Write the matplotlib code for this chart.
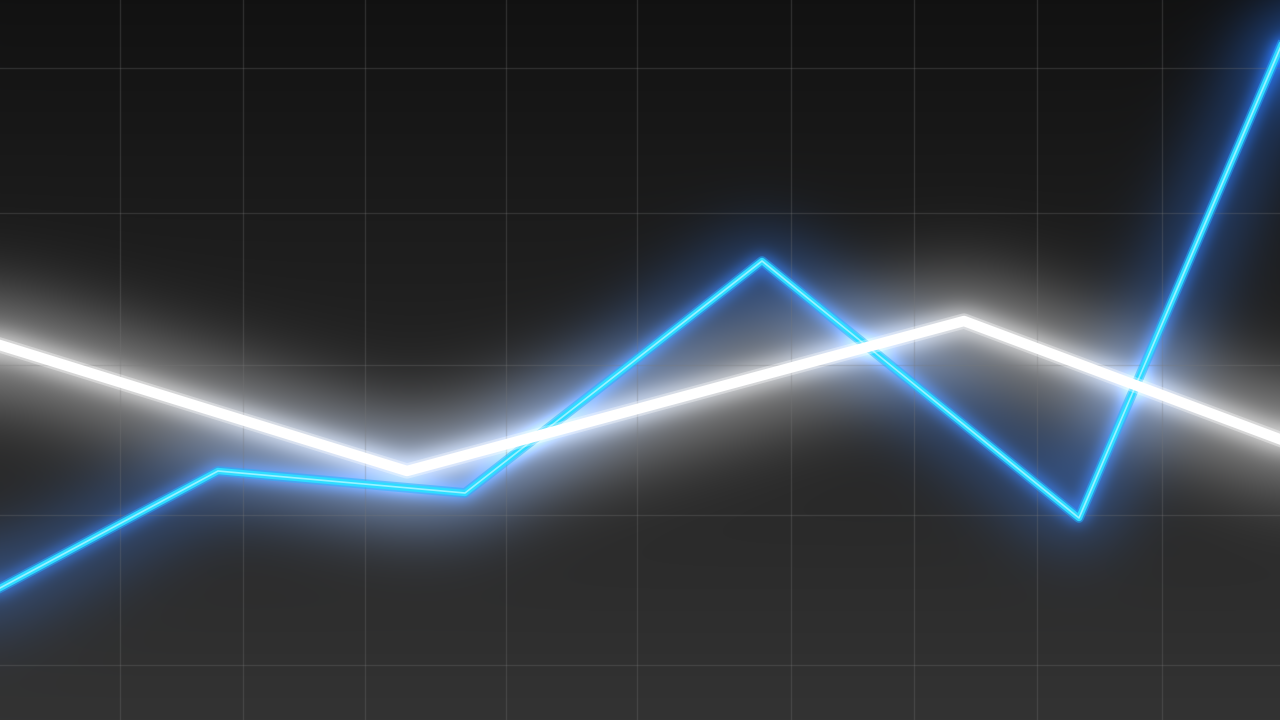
import numpy as np
import matplotlib.pyplot as plt
from matplotlib.figure import Figure
from matplotlib.backends.backend_agg import FigureCanvasAgg

# values (pixel-like units, y grows downward)
blue_x = [0, 218, 465, 762, 1079, 1290]
blue_y = [588, 471, 493, 261, 518, 25]
white_x = [-10, 407, 964, 1290]
white_y = [342, 471, 321, 443]

grid_x = [120, 243, 365, 506, 637, 791, 914, 1037, 1162]
grid_y = [68, 213, 365, 515, 665]

W, H, DPI = 1280, 720, 100


def render_line(x, y, color, lw):
    # draw one line off-screen on black so it can be blurred into a glow
    f = Figure(figsize=(W / DPI, H / DPI), dpi=DPI, facecolor='black')
    canvas = FigureCanvasAgg(f)
    a = f.add_axes([0, 0, 1, 1])
    a.set_facecolor('black')
    a.set_xlim(0, W)
    a.set_ylim(H, 0)
    a.axis('off')
    a.plot(x, y, color=color, lw=lw, solid_joinstyle='round')
    canvas.draw()
    return np.asarray(canvas.buffer_rgba())[..., :3].astype(float) / 255


def blur(img, s):
    p = int(3 * s)
    pad = np.pad(img, ((p, p), (p, p), (0, 0)), mode='edge')
    fy = np.fft.fftfreq(pad.shape[0])[:, None]
    fx = np.fft.rfftfreq(pad.shape[1])[None, :]
    g = np.exp(-2 * np.pi ** 2 * s ** 2 * (fx ** 2 + fy ** 2))
    out = np.empty_like(pad)
    for c in range(3):
        out[..., c] = np.fft.irfft2(np.fft.rfft2(pad[..., c]) * g, s=pad.shape[:2])
    return np.clip(out[p:-p, p:-p], 0, None)


# background: dark vertical gradient
t = np.linspace(0, 1, H)[:, None, None]
top = np.array([0.07, 0.07, 0.07])
bot = np.array([0.2, 0.2, 0.2])
bg = top + (bot - top) * t
bg = np.repeat(bg, W, axis=1)

white_src = render_line(white_x, white_y, '#ffffff', 9)
blue_src = render_line(blue_x, blue_y, '#1a70ff', 6)

glow = (3.6 * blur(white_src, 45) + 0.9 * blur(white_src, 12)
        + 3.2 * blur(blue_src, 38) + 1.0 * blur(blue_src, 8))
img = 1 - (1 - bg) * (1 - np.clip(glow, 0, 1))

fig = plt.figure(figsize=(W / DPI, H / DPI), dpi=DPI)
ax = fig.add_axes([0, 0, 1, 1])
ax.imshow(img, extent=[0, W, H, 0], aspect='auto', zorder=0)
ax.set_xlim(0, W)
ax.set_ylim(H, 0)
ax.axis('off')

for gx in grid_x:
    ax.axvline(gx, color='#7a7a7a', lw=1.0, alpha=0.25, zorder=1)
for gy in grid_y:
    ax.axhline(gy, color='#7a7a7a', lw=1.0, alpha=0.25, zorder=1)

# neon cores
ax.plot(blue_x, blue_y, color='#1eb4ff', lw=7, alpha=0.5, zorder=5, solid_joinstyle='round')
ax.plot(blue_x, blue_y, color='#2fdcff', lw=4.6, zorder=6, solid_joinstyle='round')
ax.plot(blue_x, blue_y, color='#9af2ff', lw=1.2, zorder=6, solid_joinstyle='round')
ax.plot(white_x, white_y, color='#ffffff', lw=11, alpha=0.35, zorder=7, solid_joinstyle='round')
ax.plot(white_x, white_y, color='#ffffff', lw=7.5, zorder=8, solid_joinstyle='round')

fig.savefig('out.png', dpi=DPI)
